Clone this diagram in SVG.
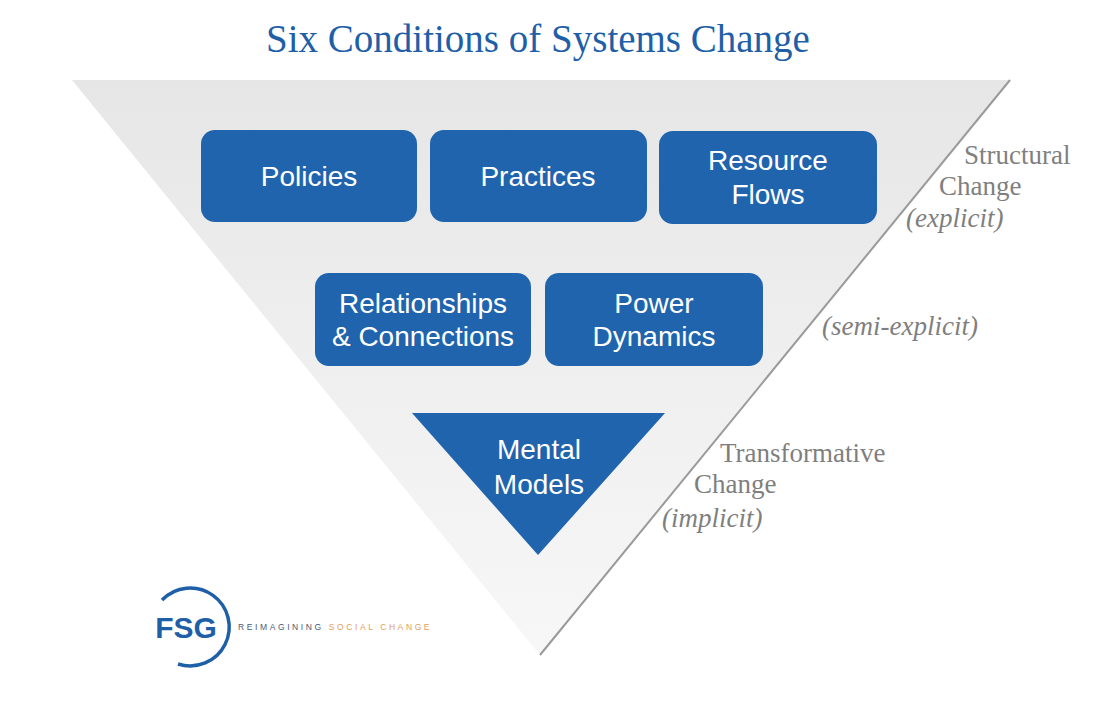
<svg xmlns="http://www.w3.org/2000/svg" width="1120" height="701" viewBox="0 0 1120 701">
<defs>
<linearGradient id="tri" x1="0" y1="0" x2="0" y2="1">
<stop offset="0" stop-color="#e6e6e6"/><stop offset="0.5" stop-color="#efefef"/><stop offset="1" stop-color="#f7f7f7"/>
</linearGradient>
<style>
.box{fill:#1f64ad;}
.bt{font-family:"Liberation Sans",Arial,sans-serif;font-size:28px;fill:#fff;text-anchor:middle;}
.side{font-family:"Liberation Serif","Times New Roman",serif;font-size:27px;fill:#7f7f7f;}
.it{font-style:italic;}
</style>
</defs>
<rect width="1120" height="701" fill="#fff"/>
<text x="538" y="52" text-anchor="middle" font-family="Liberation Serif,'Times New Roman',serif" font-size="39" fill="#1f5fa8">Six Conditions of Systems Change</text>
<g id="funnel">
<polygon points="72,80 1010,80 540,655" fill="url(#tri)"/>
<line x1="1010" y1="80" x2="540" y2="655" stroke="#9a9a9a" stroke-width="2"/>
</g>
<g id="policies"><rect class="box" x="201" y="130" width="216" height="92" rx="14"/><text class="bt" x="309" y="186">Policies</text></g>
<g id="practices"><rect class="box" x="430" y="130" width="217" height="92" rx="14"/><text class="bt" x="538" y="186">Practices</text></g>
<g id="resource"><rect class="box" x="659" y="131" width="218" height="93" rx="14"/><text class="bt" x="768" y="170">Resource</text><text class="bt" x="768" y="204">Flows</text></g>
<g id="relationships"><rect class="box" x="315" y="273" width="216" height="93" rx="14"/><text class="bt" x="423" y="313">Relationships</text><text class="bt" x="423" y="346">&amp; Connections</text></g>
<g id="power"><rect class="box" x="545" y="273" width="218" height="93" rx="14"/><text class="bt" x="654" y="313">Power</text><text class="bt" x="654" y="346">Dynamics</text></g>
<g id="mental"><polygon class="box" points="412,413 665,413 538,555"/><text class="bt" x="539" y="459">Mental</text><text class="bt" x="539" y="494">Models</text></g>
<g id="labels">
<text class="side" x="964" y="164">Structural</text>
<text class="side" x="939" y="195">Change</text>
<text class="side it" x="906" y="227">(explicit)</text>
<text class="side it" x="822" y="335">(semi-explicit)</text>
<text class="side" x="720" y="462">Transformative</text>
<text class="side" x="694" y="493">Change</text>
<text class="side it" x="662" y="527">(implicit)</text>
</g>
<g id="logo">
<path d="M162,600 A39,39 0 1,1 178,664" fill="none" stroke="#1f5fa8" stroke-width="3.5"/>
<text x="186" y="638" text-anchor="middle" font-family="Liberation Sans,Arial,sans-serif" font-weight="bold" font-size="30" fill="#1f5fa8">FSG</text>
<text x="238" y="630" font-family="Liberation Sans,Arial,sans-serif" font-size="8.5" letter-spacing="2.6" fill="#4a5a7a">REIMAGINING <tspan fill="#e0a060">SOCIAL CHANGE</tspan></text>
</g>
</svg>
